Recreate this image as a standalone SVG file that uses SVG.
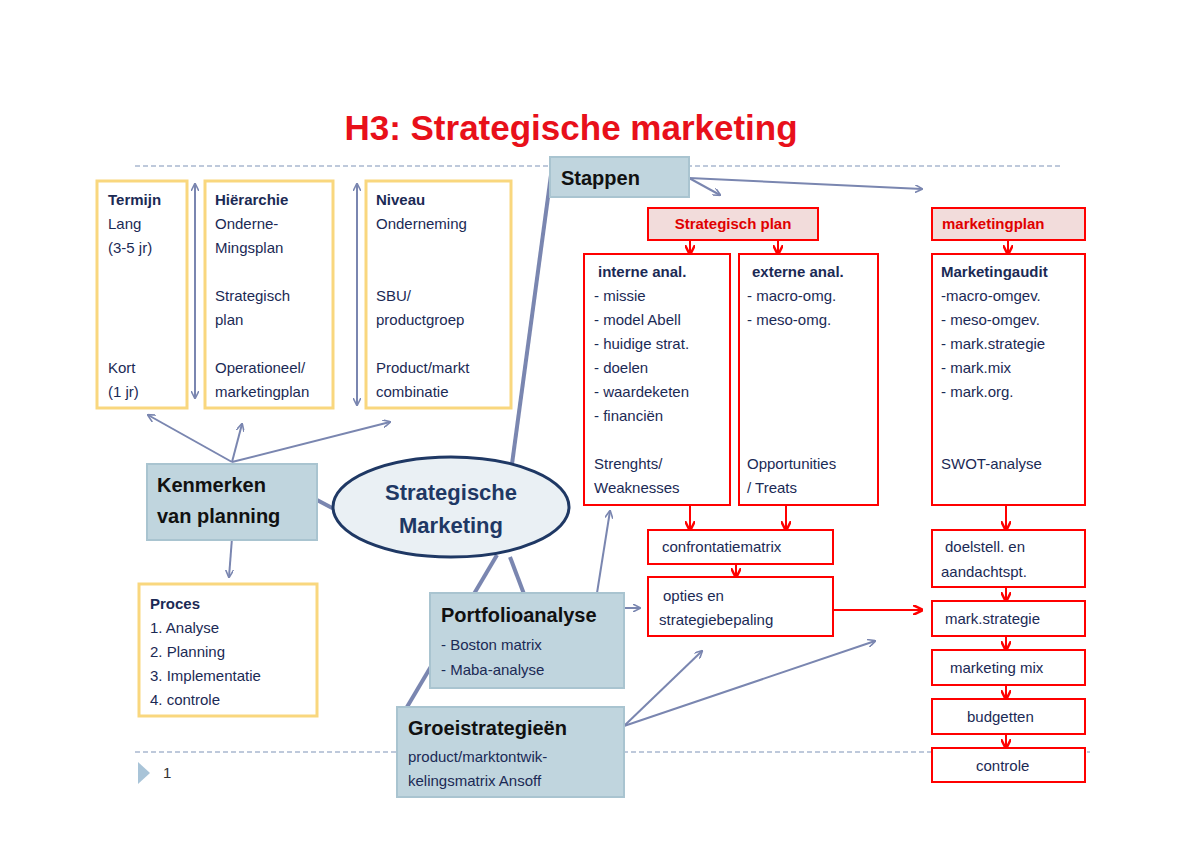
<svg xmlns="http://www.w3.org/2000/svg" width="1200" height="848" viewBox="0 0 1200 848">
<defs>
<style>
text{font-family:"Liberation Sans","DejaVu Sans",sans-serif;font-size:15px;fill:#1B2A55}
.b{font-weight:bold}
.big{font-size:20px;font-weight:bold;fill:#111}
.red{fill:#E00000;font-weight:bold}
.yel{fill:#fff;stroke:#F9D77E;stroke-width:3}
.blu{fill:#C0D5DE;stroke:#A9C4D0;stroke-width:2}
.rb{fill:#fff;stroke:#F00;stroke-width:2}
.rh{fill:#F2DCDB;stroke:#F00;stroke-width:2}
.ga{stroke:#7A86B0;stroke-width:2;fill:none;marker-end:url(#ga)}
.gd{stroke:#7A86B0;stroke-width:2;fill:none;marker-end:url(#ga);marker-start:url(#gs)}
.tk{stroke:#7A86B0;stroke-width:4;fill:none}
.ra{stroke:#F00;stroke-width:2;fill:none;marker-end:url(#ra)}
.dash{stroke:#A9B8CF;stroke-width:1.5;stroke-dasharray:5 3}
</style>
<marker id="ga" viewBox="0 0 10 10" refX="9" refY="5" markerWidth="8" markerHeight="8" markerUnits="userSpaceOnUse" orient="auto"><path d="M0,0L10,5L0,10" fill="none" stroke="#7A86B0" stroke-width="2"/></marker>
<marker id="gs" viewBox="0 0 10 10" refX="1" refY="5" markerWidth="8" markerHeight="8" markerUnits="userSpaceOnUse" orient="auto"><path d="M10,0L0,5L10,10" fill="none" stroke="#7A86B0" stroke-width="2"/></marker>
<marker id="ra" viewBox="0 0 10 10" refX="9" refY="5" markerWidth="10" markerHeight="10" markerUnits="userSpaceOnUse" orient="auto"><path d="M0,0L10,5L0,10" fill="none" stroke="#F00" stroke-width="2.5"/></marker>
</defs>
<rect width="1200" height="848" fill="#fff"/>
<text x="571" y="140" text-anchor="middle" style="font-size:35px;font-weight:bold;fill:#E8101A">H3: Strategische marketing</text>
<line class="dash" x1="135" y1="166" x2="1060" y2="166"/>
<line class="dash" x1="135" y1="752" x2="1090" y2="752"/>
<path d="M138,762L150,773L138,784Z" fill="#A9C4D8"/>
<text x="163" y="778" style="fill:#333">1</text>

<g id="connectors">
<line class="gd" x1="195" y1="184" x2="195" y2="398"/>
<line class="gd" x1="357" y1="184" x2="357" y2="405"/>
<line class="ga" x1="232" y1="462" x2="148" y2="415"/>
<line class="ga" x1="232" y1="462" x2="242" y2="424"/>
<line class="ga" x1="232" y1="462" x2="390" y2="422"/>
<line class="ga" x1="232" y1="538" x2="229" y2="577"/>
<line class="tk" x1="317" y1="500" x2="336" y2="510"/>
<line class="tk" x1="512" y1="464" x2="551" y2="175"/>
<line class="tk" x1="497" y1="555" x2="407" y2="707"/>
<line class="tk" x1="510" y1="557" x2="524" y2="594"/>
<line class="ga" x1="689" y1="178" x2="720" y2="195"/>
<line class="ga" x1="689" y1="178" x2="922" y2="189"/>
<line class="ga" x1="624" y1="608" x2="640" y2="608"/>
<line class="ga" x1="597" y1="593" x2="610" y2="511"/>
<line class="ga" x1="624" y1="726" x2="702" y2="651"/>
<line class="ga" x1="624" y1="726" x2="875" y2="641"/>
<line class="ra" x1="690" y1="240" x2="690" y2="254"/>
<line class="ra" x1="778" y1="240" x2="778" y2="254"/>
<line class="ra" x1="1008" y1="240" x2="1008" y2="254"/>
<line class="ra" x1="633" y1="433" x2="633" y2="446"/>
<line class="ra" x1="786" y1="343" x2="786" y2="440"/>
<line class="ra" x1="1006" y1="408" x2="1006" y2="448"/>
<line class="ra" x1="690" y1="505" x2="690" y2="530"/>
<line class="ra" x1="786" y1="505" x2="786" y2="530"/>
<line class="ra" x1="736" y1="564" x2="736" y2="577"/>
<line class="ra" x1="833" y1="610" x2="922" y2="610"/>
<line class="ra" x1="1006" y1="505" x2="1006" y2="530"/>
<line class="ra" x1="1006" y1="587" x2="1006" y2="601"/>
<line class="ra" x1="1006" y1="636" x2="1006" y2="650"/>
<line class="ra" x1="1006" y1="685" x2="1006" y2="699"/>
<line class="ra" x1="1006" y1="734" x2="1006" y2="748"/>
</g>

<g id="termijn"><rect class="yel" x="97" y="181" width="90" height="227"/>
<text x="108" y="205" class="b">Termijn</text><text x="108" y="229">Lang</text><text x="108" y="253">(3-5 jr)</text><text x="108" y="373">Kort</text><text x="108" y="397">(1 jr)</text></g>
<g id="hierarchie"><rect class="yel" x="205" y="181" width="128" height="227"/>
<text x="215" y="205" class="b">Hiërarchie</text><text x="215" y="229">Onderne-</text><text x="215" y="253">Mingsplan</text><text x="215" y="301">Strategisch</text><text x="215" y="325">plan</text><text x="215" y="373">Operationeel/</text><text x="215" y="397">marketingplan</text></g>
<g id="niveau"><rect class="yel" x="366" y="181" width="145" height="227"/>
<text x="376" y="205" class="b">Niveau</text><text x="376" y="229">Onderneming</text><text x="376" y="301">SBU/</text><text x="376" y="325">productgroep</text><text x="376" y="373">Product/markt</text><text x="376" y="397">combinatie</text></g>
<g id="kenmerken"><rect class="blu" x="147" y="464" width="170" height="76"/>
<text x="157" y="492" class="big">Kenmerken</text><text x="157" y="523" class="big">van planning</text></g>
<g id="proces"><rect class="yel" x="139" y="584" width="178" height="132"/>
<text x="150" y="609" class="b">Proces</text><text x="150" y="633">1. Analyse</text><text x="150" y="657">2. Planning</text><text x="150" y="681">3. Implementatie</text><text x="150" y="705">4. controle</text></g>
<g id="strategische"><ellipse cx="451" cy="507" rx="118" ry="50" fill="#EAF0F4" stroke="#1F3864" stroke-width="3"/>
<text x="451" y="500" text-anchor="middle" style="font-size:22px;font-weight:bold;fill:#1F3864">Strategische</text>
<text x="451" y="533" text-anchor="middle" style="font-size:22px;font-weight:bold;fill:#1F3864">Marketing</text></g>
<g id="stappen"><rect class="blu" x="550" y="157" width="139" height="40"/><text x="561" y="185" class="big">Stappen</text></g>
<g id="portfolio"><rect class="blu" x="430" y="593" width="194" height="95"/>
<text x="441" y="622" class="big">Portfolioanalyse</text><text x="441" y="650">- Boston matrix</text><text x="441" y="675">- Maba-analyse</text></g>
<g id="groei"><rect class="blu" x="397" y="707" width="227" height="90"/>
<text x="408" y="735" class="big">Groeistrategieën</text><text x="408" y="762">product/marktontwik-</text><text x="408" y="786">kelingsmatrix Ansoff</text></g>
<g id="strategischplan"><rect class="rh" x="648" y="208" width="170" height="32"/><text x="733" y="229" text-anchor="middle" class="red">Strategisch plan</text></g>
<g id="marketingplan"><rect class="rh" x="932" y="208" width="153" height="32"/><text x="942" y="229" class="red">marketingplan</text></g>
<g id="interne"><rect class="rb" x="584" y="254" width="146" height="251"/>
<text x="598" y="277" class="b">interne anal.</text><text x="594" y="301">- missie</text><text x="594" y="325">- model Abell</text><text x="594" y="349">- huidige strat.</text><text x="594" y="373">- doelen</text><text x="594" y="397">- waardeketen</text><text x="594" y="421">- financiën</text><text x="594" y="469">Strenghts/</text><text x="594" y="493">Weaknesses</text></g>
<g id="externe"><rect class="rb" x="739" y="254" width="139" height="251"/>
<text x="752" y="277" class="b">externe anal.</text><text x="747" y="301">- macro-omg.</text><text x="747" y="325">- meso-omg.</text><text x="747" y="469">Opportunities</text><text x="747" y="493">/ Treats</text></g>
<g id="audit"><rect class="rb" x="932" y="254" width="153" height="251"/>
<text x="941" y="277" class="b">Marketingaudit</text><text x="941" y="301">-macro-omgev.</text><text x="941" y="325">- meso-omgev.</text><text x="941" y="349">- mark.strategie</text><text x="941" y="373">- mark.mix</text><text x="941" y="397">- mark.org.</text><text x="941" y="469">SWOT-analyse</text></g>
<g id="confrontatie"><rect class="rb" x="648" y="530" width="185" height="34"/><text x="662" y="552">confrontatiematrix</text></g>
<g id="opties"><rect class="rb" x="648" y="577" width="185" height="59"/><text x="663" y="601">opties en</text><text x="659" y="625">strategiebepaling</text></g>
<g id="doelstell"><rect class="rb" x="932" y="530" width="153" height="57"/><text x="945" y="552">doelstell. en</text><text x="941" y="577">aandachtspt.</text></g>
<g id="markstrategie"><rect class="rb" x="932" y="601" width="153" height="35"/><text x="945" y="624">mark.strategie</text></g>
<g id="marketingmix"><rect class="rb" x="932" y="650" width="153" height="35"/><text x="950" y="673">marketing mix</text></g>
<g id="budgetten"><rect class="rb" x="932" y="699" width="153" height="35"/><text x="967" y="722">budgetten</text></g>
<g id="controle"><rect class="rb" x="932" y="748" width="153" height="34"/><text x="976" y="771">controle</text></g>
</svg>
